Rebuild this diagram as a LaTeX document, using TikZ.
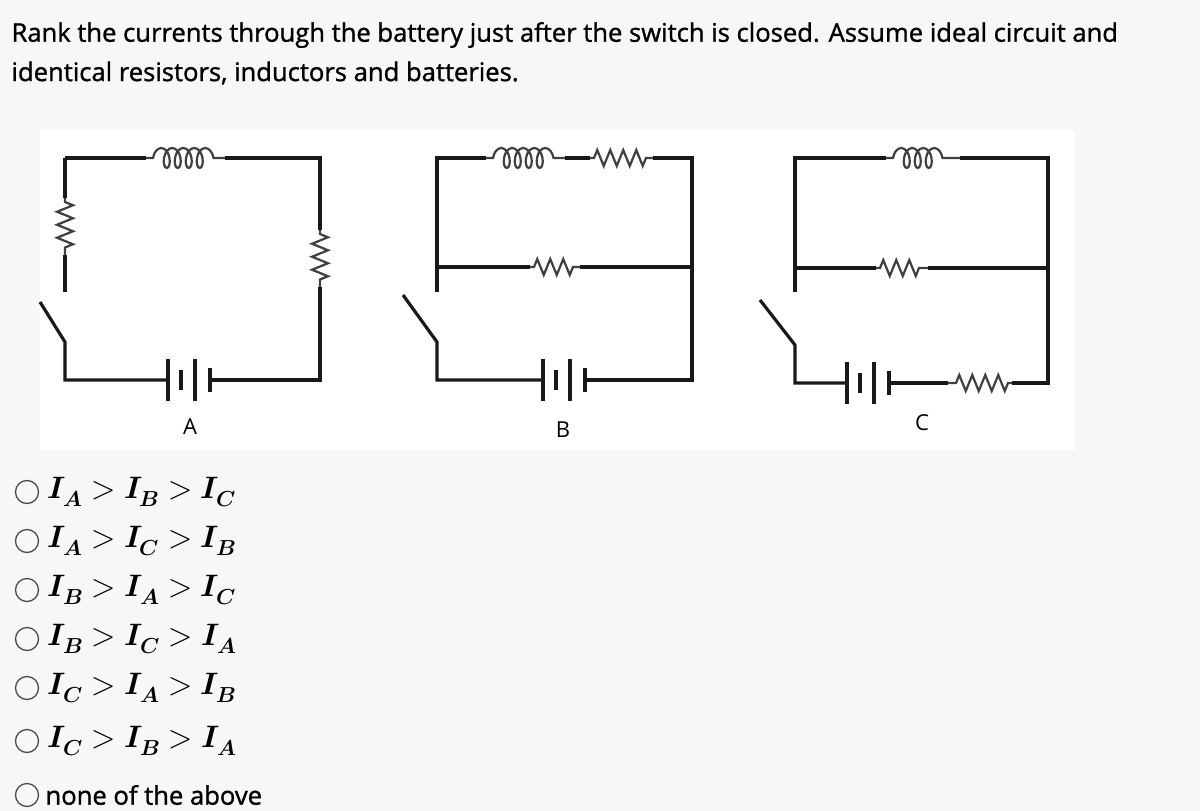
\documentclass[tikz,border=0pt]{standalone}
\usepackage{fontspec}
\setmainfont{Open Sans}
\usepackage{unicode-math}
\setmathfont{Latin Modern Math}
\usetikzlibrary{decorations.pathmorphing,decorations.pathreplacing}
\begin{document}
\begin{tikzpicture}[x=1pt,y=-1pt,
  wire/.style={line width=3.2pt,black!90},
  res/.style={line width=2.2pt,black!75,decorate,decoration={zigzag,segment length=13pt,amplitude=8pt,pre length=4pt,post length=4pt}},
  ind/.style={line width=2.2pt,black!75,decorate,decoration={coil,aspect=0.55,segment length=11pt,amplitude=10pt,pre length=7pt,post length=7pt}},
  lbl/.style={font=\fontsize{22}{24}\selectfont},
  txt/.style={anchor=west,font=\fontsize{25.6}{30}\selectfont\addfontfeatures{FakeBold=1.2}},
  opt/.style={anchor=west,font=\fontsize{31}{34}\selectfont},
  radio/.style={circle,draw=black!70,line width=1.3pt,minimum size=23pt,inner sep=0pt}]
\fill[black!3] (0,0) rectangle (1200,811);
\useasboundingbox (0,0) rectangle (1200,811);
\fill[white] (40,130) rectangle (1075,450);
\node[txt] (q1) at (8,35) {Rank the currents through the battery just after the switch is closed. Assume ideal circuit and};
\node[txt] (q2) at (8,73) {identical resistors, inductors and batteries.};
\newcommand{\batt}[2]{%
 \draw[wire] (#1,#2-21)--(#1,#2+21);
 \draw[wire] (#1+13,#2-10)--(#1+13,#2+10);
 \draw[wire] (#1+27,#2-21)--(#1+27,#2+21);
 \draw[wire] (#1+42,#2-12)--(#1+42,#2+12);}
% Circuit A
\coordinate (a1) at (65,158); \coordinate (a2) at (320,158);
\coordinate (a3) at (320,380); \coordinate (a4) at (65,380);
\coordinate (ai1) at (146,158); \coordinate (ai2) at (225,158);
\draw[wire] (a1)--(ai1) (ai2)--(a2)--(320,230);
\draw[ind] (ai1)--(ai2);
\draw[res] (320,230)--(320,287);
\draw[wire] (320,287)--(a3)--(212,380);
\batt{168}{380}
\draw[wire] (168,380)--(a4)--(65,342)--(40,302);
\draw[wire] (a1)--(65,198);
\draw[res] (65,198)--(65,255);
\draw[wire] (65,255)--(65,292);
\node[lbl] (la) at (190,427) {A};
% Circuit B
\draw[wire] (437,292)--(437,158)--(486,158);
\draw[ind] (486,158)--(565,158);
\draw[wire] (565,158)--(590,158);
\draw[res] (590,158)--(653,158);
\draw[wire] (653,158)--(692,158)--(692,380)--(585,380);
\batt{543}{380}
\draw[wire] (543,380)--(437,380)--(437,342)--(403,295);
\draw[wire] (437,267)--(530,267);
\draw[res] (530,267)--(580,267);
\draw[wire] (580,267)--(692,267);
\node[lbl] (lb) at (563,430) {B};
% Circuit C
\draw[wire] (795,292)--(795,158)--(886,158);
\draw[ind] (886,158)--(960,158);
\draw[wire] (960,158)--(1048,158)--(1048,383)--(1012,383);
\draw[res] (1012,383)--(948,383);
\draw[wire] (948,383)--(889,383);
\batt{847}{383}
\draw[wire] (847,383)--(795,383)--(795,345)--(760,300);
\draw[wire] (795,268)--(876,268);
\draw[res] (876,268)--(928,268);
\draw[wire] (928,268)--(1048,268);
\node[lbl] (lc) at (922,423) {C};
% options
\foreach \y/\t [count=\i] in {492/{I_A>I_B>I_C},541/{I_A>I_C>I_B},590/{I_B>I_A>I_C},639/{I_B>I_C>I_A},688/{I_C>I_A>I_B},741/{I_C>I_B>I_A}}{
  \node[radio] (r\i) at (27,\y) {};
  \node[opt] (o\i) at (44,\y) {$\mathbfit{\t}$};
}
\node[radio] (r7) at (27,795) {};
\node[txt] (o7) at (42,795) {none of the above};
\end{tikzpicture}
\end{document}
